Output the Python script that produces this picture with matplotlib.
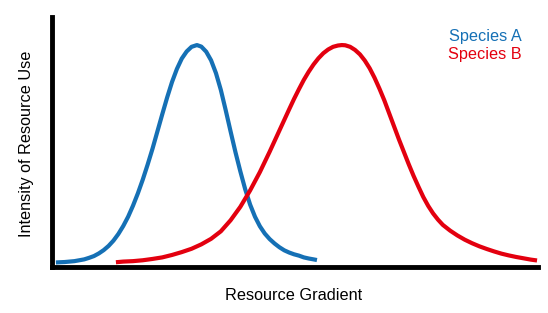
import matplotlib
matplotlib.use("Agg")
import matplotlib.pyplot as plt

plt.rcParams['font.family'] = ['Liberation Sans', 'DejaVu Sans']

# values (resource gradient 0-100, intensity 0-100)
species_a_x = [1.2, 2, 3, 4, 5, 6, 7, 8, 9, 10, 11, 12, 13, 14, 15, 16, 17, 18, 19, 20,
               21, 22, 23, 24, 25, 26, 27, 28, 29, 30.1,
               31, 32, 33, 34, 35, 36, 37, 38, 39, 40, 41, 42, 43, 44, 45, 46, 47, 48,
               49, 50, 51, 52, 53, 54, 54.7]
species_a_y = [1.6, 1.7, 1.8, 2.0, 2.2, 2.6, 3.0, 3.7, 4.5, 5.7, 7.2, 9.1, 11.5, 14.5, 18.1, 22.3, 27.3, 32.9, 39.1, 45.9,
               53.1, 60.9, 68.7, 76.3, 83.3, 89.2, 93.9, 97.1, 99.2, 100,
               99.3, 97.0, 93.1, 87.3, 79.7, 70.5, 60.9, 51.5, 42.8, 34.7, 27.8, 22.3, 18.0, 14.7, 12.2, 10.2, 8.5, 7.1,
               6.1, 5.3, 4.7, 3.9, 3.4, 3.0, 2.7]

species_b_x = [13.5, 15, 17, 19, 21, 23, 25, 27, 29, 31, 33, 35, 37, 39, 41, 43, 45, 47, 48, 49,
               50, 51, 52, 53, 54, 55, 56, 57, 58, 59, 59.8,
               60.5, 61.5, 62.5, 63.5, 64.5, 65.5, 66.5, 67.5, 68.5, 69.5, 70.5, 71.5, 72.5, 73.5,
               74.5, 75.5, 76.5, 77.5, 78.5, 79.5, 80.5, 82, 83.5, 85, 86.5, 88, 89.5, 91, 92.5,
               94, 95.5, 97, 98.5, 99.8]
species_b_y = [1.7, 2.0, 2.2, 2.6, 3.2, 3.9, 5.0, 6.3, 7.8, 9.8, 12.3, 15.7, 20.7, 26.8, 34.2, 42.5, 51.7, 61.3, 66.1, 70.9,
               75.6, 80.0, 84.2, 87.9, 91.2, 94.0, 96.3, 98.0, 99.2, 99.8, 100,
               99.9, 99.2, 97.8, 95.8, 93.0, 89.5, 85.2, 80.3, 75.0, 69.1, 63.2, 57.3, 51.7, 46.1,
               40.8, 35.9, 31.2, 27.2, 23.8, 21.0, 18.6, 16.0, 13.8, 11.9, 10.3, 8.9, 7.7, 6.6, 5.6,
               4.8, 4.1, 3.5, 2.9, 2.5]

blue = '#1570b5'
red = '#e3000f'

fig = plt.figure(figsize=(5.48, 3.13), dpi=100)
ax = fig.add_axes([52/548, 46/313, 486/548, 250/313])

ax.plot(species_a_x, species_a_y, color=blue, lw=3, solid_capstyle='butt',
        solid_joinstyle='round', clip_on=False)
ax.plot(species_b_x, species_b_y, color=red, lw=3, solid_capstyle='butt',
        solid_joinstyle='round', clip_on=False)

ax.set_xlim(0.4, 100)
ax.set_ylim(-0.45, 112.7)

# only left and bottom axis lines, no ticks
for side in ['top', 'right']:
    ax.spines[side].set_visible(False)
for side in ['left', 'bottom']:
    ax.spines[side].set_linewidth(3.5)
    ax.spines[side].set_color('black')
ax.set_xticks([])
ax.set_yticks([])

# labels
fig.text(293.5/548, 1-300/313, 'Resource Gradient', ha='center', va='baseline', fontsize=11.7)
fig.text(27/548, 1-144/313, 'Intensity of Resource Use', ha='center', va='center',
         rotation=90, fontsize=11.7)
fig.text(522/548, 1-41/313, 'Species A', ha='right', va='baseline', fontsize=11.7, color=blue)
fig.text(522/548, 1-58.5/313, 'Species B', ha='right', va='baseline', fontsize=11.7, color=red)

fig.savefig('out.png', dpi=100)
